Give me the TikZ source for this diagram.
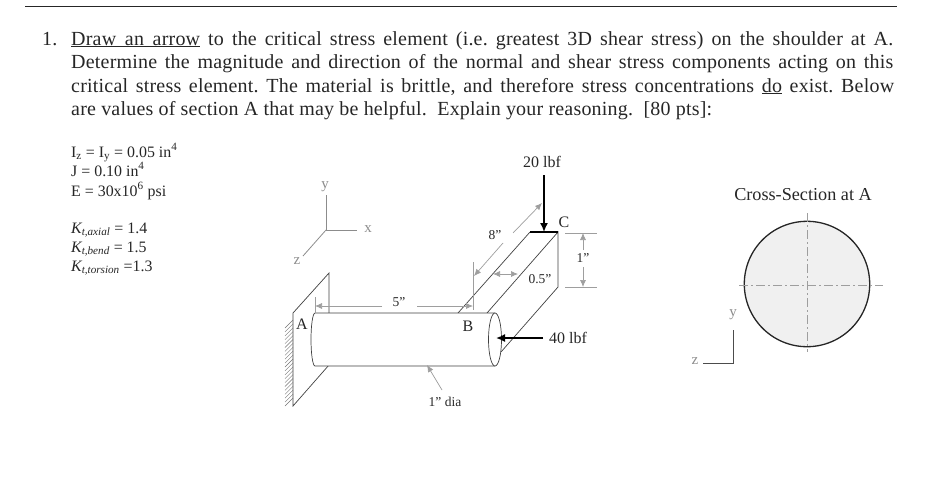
\documentclass[tikz,border=0pt]{standalone}
\usepackage{fontspec}
\setmainfont{Liberation Serif}
\newfontfamily\bodyfont[LetterSpace=1]{Liberation Serif}
\usetikzlibrary{arrows.meta}
\definecolor{dimgray}{gray}{0.62}
\definecolor{axisgray}{gray}{0.55}
\definecolor{textgray}{gray}{0.15}
\tikzset{
  bodytext/.style={anchor=base west,inner sep=0pt,text=textgray,font=\bodyfont\fontsize{20}{23}\selectfont\frenchspacing},
  datatext/.style={anchor=base west,inner sep=0pt,text=textgray,font=\fontsize{15.9}{18}\selectfont},
  label/.style={inner sep=0pt,text=textgray,font=\fontsize{16}{18}\selectfont},
  smalllabel/.style={inner sep=0pt,text=textgray,font=\fontsize{13.5}{16}\selectfont},
  axislabel/.style={inner sep=0pt,text=axisgray,font=\fontsize{15}{17}\selectfont},
  part/.style={draw=black!75,line width=0.7pt},
  axisline/.style={draw=axisgray,line width=0.8pt},
  dimline/.style={draw=dimgray,line width=0.7pt},
  dimtip/.style={arrows={-Latex[length=7pt,width=6pt]}},
  force/.style={draw=black,line width=1.6pt,arrows={-Latex[length=9pt,width=8pt]}}
}
\begin{document}
\begin{tikzpicture}[x=1pt,y=-1pt]
      \useasboundingbox (0,0) rectangle (934,490);
      \draw [black!85,line width=1pt] (25,6.3) -- (897,6.3);
      % question
      \node (num) [bodytext] at (42,45) {1.};
      \node (line1) [bodytext] at (71,45) {\makebox[822pt][s]{\underline{\makebox[129pt][s]{Draw an arrow}} to the critical stress element (i.e. greatest 3D shear stress) on the shoulder at A.}};
      \node (line2) [bodytext] at (71,68) {\makebox[822pt][s]{Determine the magnitude and direction of the normal and shear stress components acting on this}};
      \node (line3) [bodytext] at (71,92) {\makebox[823pt][s]{critical stress element. The material is brittle, and therefore stress concentrations \underline{do} exist. Below}};
      \node (line4) [bodytext] at (71,115) {\makebox[641pt][s]{are values of section A that may be helpful.\ \ Explain your reasoning.\ \ [80 pts]:}};
      % section data
      \node (inertia) [datatext] at (71,157) {I\textsubscript{z} = I\textsubscript{y} = 0.05 in\textsuperscript{4}};
      \node (polar) [datatext] at (71,176) {J = 0.10 in\textsuperscript{4}};
      \node (modulus) [datatext] at (71,196) {E = 30x10\textsuperscript{6} psi};
      \node (ktaxial) [datatext] at (71,233) {\textit{K\textsubscript{t,axial}} = 1.4};
      \node (ktbend) [datatext] at (71,252) {\textit{K\textsubscript{t,bend}} = 1.5};
      \node (kttorsion) [datatext] at (71,271) {\textit{K\textsubscript{t,torsion}} =1.3};
      % axes
      \coordinate (O) at (326,230);
      \node (ylabel) [axislabel] at (325,187) {y};
      \node (xlabel) [axislabel] at (368,229) {x};
      \node (zlabel) [axislabel] at (297,261) {z};
      \draw [axisline] (O) -- (326,195);
      \draw [axisline] (O) -- (357,230);
      \draw [axisline] (O) -- (303,256);
      % wall
      \coordinate (W1) at (293,313);
      \coordinate (W2) at (329,273);
      \coordinate (W3) at (293,406);
      \coordinate (W4) at (329,365);
      \draw [part] (329,313) -- (W2) -- (W1) -- (W3) -- (W4);
      \foreach \i in {0,...,20} {
        \draw [black!55,line width=0.4pt] (293,{320+\i*3.9}) -- (285,{328+\i*3.9});
      }
      % shoulder block
      \coordinate (S1) at (458,313);
      \coordinate (S2) at (487,313);
      \coordinate (S3) at (530,232);
      \coordinate (S4) at (558,232);
      \coordinate (S5) at (558,287);
      \coordinate (S6) at (501,352);
      \draw [part] (S1) -- (S3);
      \draw [part] (S2) -- (S4) -- (S5) -- (S6);
      \draw [draw=black,line width=1.1pt] (S3) -- (S4);
      % shaft
      \draw [part,fill=white] (495,313) -- (315,313) arc [start angle=90,end angle=270,x radius=4pt,y radius=26.5pt] -- (495,366);
      \draw [part,fill=white] (495,339.5) ellipse [x radius=6.5pt,y radius=26.5pt];
      \node (A) [label] at (302,324) {A};
      \node (B) [label] at (468,326) {B};
      \node (C) [label] at (564,222) {C};
      % forces
      \node (F20) [label] at (542,162) {20 lbf};
      \coordinate (F20a) at (544,175);
      \coordinate (F20b) at (544,232);
      \draw [force] (F20a) -- (F20b);
      \node (F40) [label,anchor=west] at (549,338) {40 lbf};
      \draw [force] (F40.west) ++(-6,0) -- (496,338);
      % dimensions
      \node (d5) [smalllabel] at (399,302) {5''};
      \draw [dimline,dimtip] (382,306) -- (315,306);
      \draw [dimline,dimtip] (417,306) -- (473,306);
      \draw [dimline] (315,297) -- (315,313);
      \draw [dimline] (473,262) -- (473,310);
      \node (d8) [smalllabel] at (495,235) {8''};
      \draw [dimline,dimtip] (503,243) -- (474,276);
      \draw [dimline,dimtip] (513,233) -- (542,203);
      \node (d05) [smalllabel] at (540,279) {0.5''};
      \draw [dimline,arrows={Latex[length=7pt,width=6pt]-Latex[length=7pt,width=6pt]}] (493,274) -- (518,274);
      \node (d1) [smalllabel] at (583,258) {1''};
      \draw [dimline] (565,233) -- (597,233);
      \draw [dimline] (565,287) -- (597,287);
      \draw [dimline,dimtip] (583,250) -- (583,233);
      \draw [dimline,dimtip] (583,267) -- (583,287);
      \node (dia) [smalllabel] at (445,402) {1'' dia};
      \draw [dimline,dimtip] (442,390) -- (427,365);
      % cross section
      \node (title) [label,font=\fontsize{18.2}{20}\selectfont] at (803,195) {Cross-Section at A};
      \coordinate (CS) at (807,284);
      \draw [draw=black!85,fill=black!6,line width=1.3pt] (CS) circle (62.7pt);
      \draw [dimline,dash pattern=on 9pt off 3pt on 2pt off 3pt] (807,213) -- (807,352);
      \draw [dimline,dash pattern=on 9pt off 3pt on 2pt off 3pt] (739,285.5) -- (883,285.5);
      \node (ysec) [axislabel] at (733,315) {y};
      \node (zsec) [axislabel] at (695,361) {z};
      \coordinate (corner) at (733,363);
      \draw [draw=black!70,line width=0.8pt] (733,330) -- (corner) -- (703,363);
      \end{tikzpicture}
\end{document}
